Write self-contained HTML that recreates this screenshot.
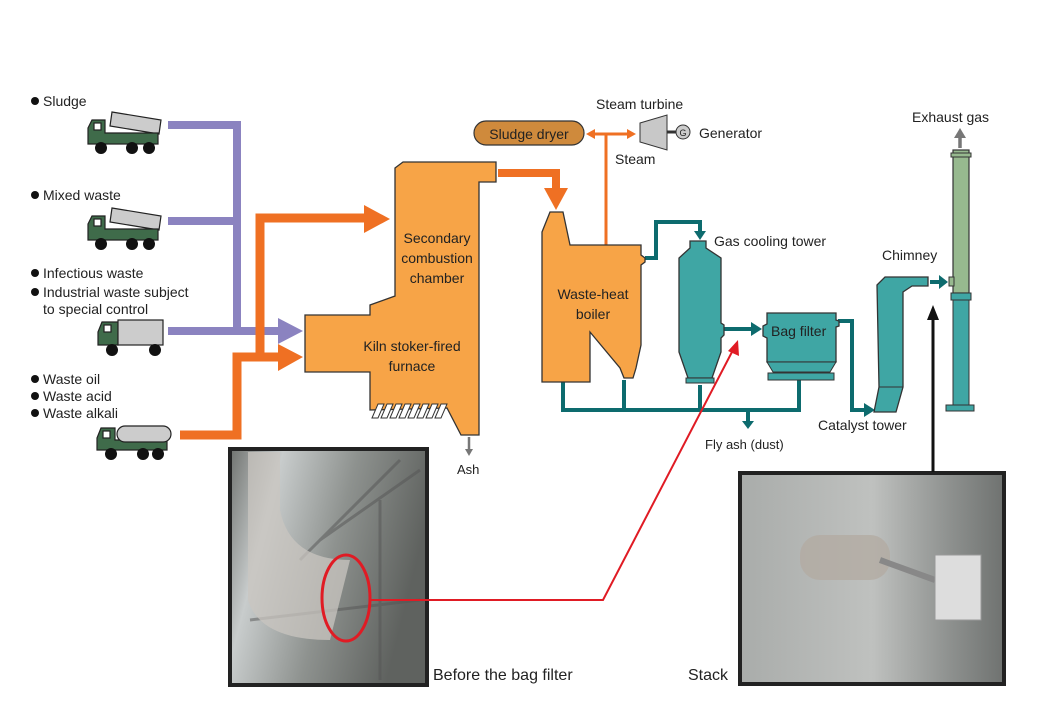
<!DOCTYPE html>
<html><head><meta charset="utf-8"><style>
html,body{margin:0;padding:0;background:#fff}
svg{display:block}
text{font-family:"Liberation Sans",sans-serif;fill:#222}
</style></head><body>
<svg width="1037" height="714" viewBox="0 0 1037 714" xmlns="http://www.w3.org/2000/svg">
<defs>
<linearGradient id="p1" x1="0" y1="0" x2="1" y2="0.3">
<stop offset="0" stop-color="#6f726f"/><stop offset="0.25" stop-color="#c8cccc"/><stop offset="0.6" stop-color="#8e928f"/><stop offset="1" stop-color="#5f625f"/></linearGradient>
<linearGradient id="p2" x1="0" y1="0" x2="1" y2="0">
<stop offset="0" stop-color="#a9acaa"/><stop offset="0.5" stop-color="#bfc1bf"/><stop offset="0.8" stop-color="#8d908e"/><stop offset="1" stop-color="#6f7270"/></linearGradient>
</defs>
<g font-size="14">
<circle cx="35" cy="101" r="4" fill="#111"/><text x="43" y="106">Sludge</text>
<circle cx="35" cy="195" r="4" fill="#111"/><text x="43" y="200">Mixed waste</text>
<circle cx="35" cy="273" r="4" fill="#111"/><text x="43" y="278">Infectious waste</text>
<circle cx="35" cy="292" r="4" fill="#111"/><text x="43" y="297">Industrial waste subject</text>
<text x="43" y="314">to special control</text>
<circle cx="35" cy="379" r="4" fill="#111"/><text x="43" y="384">Waste oil</text>
<circle cx="35" cy="396" r="4" fill="#111"/><text x="43" y="401">Waste acid</text>
<circle cx="35" cy="413" r="4" fill="#111"/><text x="43" y="418">Waste alkali</text>
</g>
<g stroke="#222" stroke-width="1.2">
<polygon points="112,112 161,120 159,134 110,126" fill="#ccc"/>
<path d="M88,144 V128 L92,120 H105 V133 H158 V144 Z" fill="#3f6b4a"/>
<rect x="94" y="123" width="7" height="7" fill="#fff"/>
<g fill="#111" stroke="none"><circle cx="101" cy="148" r="6"/><circle cx="132" cy="148" r="6"/><circle cx="149" cy="148" r="6"/></g>
<polygon points="112,208 161,216 159,230 110,222" fill="#ccc"/>
<path d="M88,240 V224 L92,216 H105 V229 H158 V240 Z" fill="#3f6b4a"/>
<rect x="94" y="219" width="7" height="7" fill="#fff"/>
<g fill="#111" stroke="none"><circle cx="101" cy="244" r="6"/><circle cx="132" cy="244" r="6"/><circle cx="149" cy="244" r="6"/></g>
<path d="M98,345 V332 L102,322 H118 V345 Z" fill="#3f6b4a"/>
<rect x="104" y="325" width="7" height="7" fill="#fff"/>
<rect x="118" y="320" width="45" height="25" fill="#ccc"/>
<g fill="#111" stroke="none"><circle cx="112" cy="350" r="6"/><circle cx="155" cy="350" r="6"/></g>
<path d="M97,450 V438 L101,428 H115 V440 H167 V450 Z" fill="#3f6b4a"/>
<rect x="103" y="431" width="7" height="7" fill="#fff"/>
<rect x="117" y="426" width="54" height="16" rx="8" fill="#ccc"/>
<g fill="#111" stroke="none"><circle cx="111" cy="454" r="6"/><circle cx="143" cy="454" r="6"/><circle cx="158" cy="454" r="6"/></g>
</g>
<g fill="none" stroke="#8b83c0" stroke-width="8">
<path d="M168,125 H237 V331 H285"/>
<path d="M168,221 H237"/>
<path d="M168,331 H237"/>
</g>
<polygon points="278,318 303,331 278,344" fill="#8b83c0"/>
<g fill="none" stroke="#ef7023" stroke-width="9">
<path d="M180,435 H237 V357 H283"/>
<path d="M260,357 V218 H368"/>
</g>
<polygon points="278,344 303,357 278,371" fill="#ef7023"/>
<polygon points="364,205 390,219 364,233" fill="#ef7023"/>
<path d="M395,168 L403,162 H496 V182 H479 V435 H461 L447,408 L370,410 V372 H305 V315 H370 V305 L395,296 Z" fill="#f7a447" stroke="#333" stroke-width="1.3"/>
<g fill="#fff" stroke="#333" stroke-width="1">
<polygon points="372,418 378,404 384,404 378,418"/><polygon points="381,418 387,404 393,404 387,418"/><polygon points="390,418 396,404 402,404 396,418"/><polygon points="399,418 405,404 411,404 405,418"/><polygon points="408,418 414,404 420,404 414,418"/><polygon points="417,418 423,404 429,404 423,418"/><polygon points="426,418 432,404 438,404 432,418"/><polygon points="435,418 441,404 447,404 441,418"/>
</g>
<g font-size="14" text-anchor="middle">
<text x="437" y="243">Secondary</text><text x="437" y="263">combustion</text><text x="437" y="283">chamber</text>
<text x="412" y="351">Kiln stoker-fired</text><text x="412" y="371">furnace</text>
</g>
<line x1="469" y1="437" x2="469" y2="450" stroke="#777" stroke-width="2.5"/>
<polygon points="465,449 473,449 469,456" fill="#777"/>
<text x="457" y="474" font-size="13">Ash</text>
<path d="M498,173 H556 V190" fill="none" stroke="#ef7023" stroke-width="8"/>
<polygon points="544,188 568,188 556,210" fill="#ef7023"/>
<path d="M606,245 V134 M592,134 H630" fill="none" stroke="#ef7023" stroke-width="3"/>
<polygon points="586,134 595,129 595,139" fill="#ef7023"/>
<polygon points="636,134 627,129 627,139" fill="#ef7023"/>
<rect x="474" y="121" width="110" height="24" rx="12" fill="#cf8a3c" stroke="#333" stroke-width="1.2"/>
<text x="529" y="139" font-size="14" text-anchor="middle">Sludge dryer</text>
<polygon points="640,123 667,115 667,150 640,142" fill="#c8c8c8" stroke="#333" stroke-width="1"/>
<line x1="667" y1="132" x2="676" y2="132" stroke="#333" stroke-width="3"/>
<circle cx="683" cy="132" r="7" fill="#ccc" stroke="#333"/>
<text x="683" y="136" font-size="9" text-anchor="middle">G</text>
<text x="596" y="109" font-size="14">Steam turbine</text>
<text x="699" y="138" font-size="14">Generator</text>
<text x="615" y="164" font-size="14">Steam</text>
<g fill="none" stroke="#0d6b6e" stroke-width="4">
<path d="M645,258 H656 V222 H700 V232"/>
<path d="M563,382 V410 H799 V378"/>
<path d="M624,380 V410 M700,385 V410 M748,410 V423"/>
<path d="M723,329 H752"/>
<path d="M838,321 H852 V410 H865"/>
<path d="M930,282 H940"/>
</g>
<polygon points="694,231 706,231 700,240" fill="#0d6b6e"/>
<polygon points="751,322 762,329 751,336" fill="#0d6b6e"/>
<polygon points="742,421 754,421 748,429" fill="#0d6b6e"/>
<polygon points="864,403 875,410 864,417" fill="#0d6b6e"/>
<polygon points="939,275 948,282 939,289" fill="#0d6b6e"/>
<path d="M542,232 L550,212 H563 L570,245 H641 V255 L645,258 V262 L641,265 V345 L636,368 L633,378 H624 L620,368 L590,332 V382 H542 Z" fill="#f7a447" stroke="#333" stroke-width="1.3"/>
<text x="593" y="299" font-size="14" text-anchor="middle">Waste-heat</text>
<text x="593" y="319" font-size="14" text-anchor="middle">boiler</text>
<path d="M690,241 H706 V248 L721,258 V323 L724,325 V335 L721,338 V352 L712,378 H688 L679,352 V258 L690,248 Z" fill="#3fa6a4" stroke="#333" stroke-width="1.3"/>
<rect x="686" y="378" width="28" height="5" fill="#3fa6a4" stroke="#333"/>
<text x="714" y="246" font-size="14">Gas cooling tower</text>
<path d="M767,313 H836 V320 L839,321 V326 L836,327 V362 H767 V338 L763,336 V326 L767,324 Z" fill="#3fa6a4" stroke="#333" stroke-width="1.3"/>
<polygon points="767,362 836,362 830,372 773,372" fill="#3fa6a4" stroke="#333"/>
<rect x="768" y="373" width="66" height="7" fill="#3fa6a4" stroke="#333"/>
<text x="771" y="336" font-size="14">Bag filter</text>
<path d="M877,285 L885,277 H928 V286 H912 L903,292 V387 L896,412 H874 L879,387 Z" fill="#3fa6a4" stroke="#333" stroke-width="1.3"/>
<line x1="879" y1="387" x2="903" y2="387" stroke="#333"/>
<text x="882" y="260" font-size="14">Chimney</text>
<text x="818" y="430" font-size="14">Catalyst tower</text>
<rect x="953" y="150" width="16" height="143" fill="#97b98f" stroke="#333" stroke-width="1.2"/>
<rect x="951" y="153" width="20" height="4" fill="#97b98f" stroke="#333"/>
<rect x="949" y="277" width="5" height="9" fill="#97b98f" stroke="#333"/>
<rect x="951" y="293" width="20" height="7" fill="#3fa6a4" stroke="#333"/>
<rect x="953" y="300" width="16" height="105" fill="#3fa6a4" stroke="#333"/>
<rect x="946" y="405" width="28" height="6" fill="#3fa6a4" stroke="#333"/>
<line x1="960" y1="136" x2="960" y2="148" stroke="#777" stroke-width="3.5"/>
<polygon points="954,138 966,138 960,128" fill="#777"/>
<text x="912" y="122" font-size="14">Exhaust gas</text>
<text x="705" y="449" font-size="13">Fly ash (dust)</text>
<rect x="230" y="449" width="197" height="236" fill="url(#p1)" stroke="#222" stroke-width="4"/>
<g stroke="#555" stroke-width="3" opacity="0.5">
<line x1="300" y1="560" x2="400" y2="460"/><line x1="320" y1="540" x2="420" y2="470"/>
<line x1="380" y1="500" x2="380" y2="680"/><line x1="250" y1="620" x2="420" y2="600"/>
</g>
<path d="M248,452 V600 Q260,640 330,640 L350,560 Q290,560 280,510 V452 Z" fill="#c9c6c0" opacity="0.75"/>
<rect x="740" y="473" width="264" height="211" fill="url(#p2)" stroke="#222" stroke-width="4"/>
<rect x="800" y="535" width="90" height="45" rx="20" fill="#b3aba2" opacity="0.8"/>
<line x1="880" y1="560" x2="935" y2="580" stroke="#888" stroke-width="6"/>
<rect x="935" y="555" width="46" height="65" fill="#ddd" stroke="#999"/>
<text x="433" y="680" font-size="16">Before the bag filter</text>
<text x="688" y="680" font-size="16">Stack</text>
<ellipse cx="346" cy="598" rx="24" ry="43" fill="none" stroke="#e01b24" stroke-width="3"/>
<path d="M370,600 H603 L733,350" fill="none" stroke="#e01b24" stroke-width="2"/>
<polygon points="738,340 739,356 728,351" fill="#e01b24"/>
<line x1="933" y1="472" x2="933" y2="318" stroke="#111" stroke-width="3"/>
<polygon points="927,320 939,320 933,305" fill="#111"/>
</svg>
</body></html>
